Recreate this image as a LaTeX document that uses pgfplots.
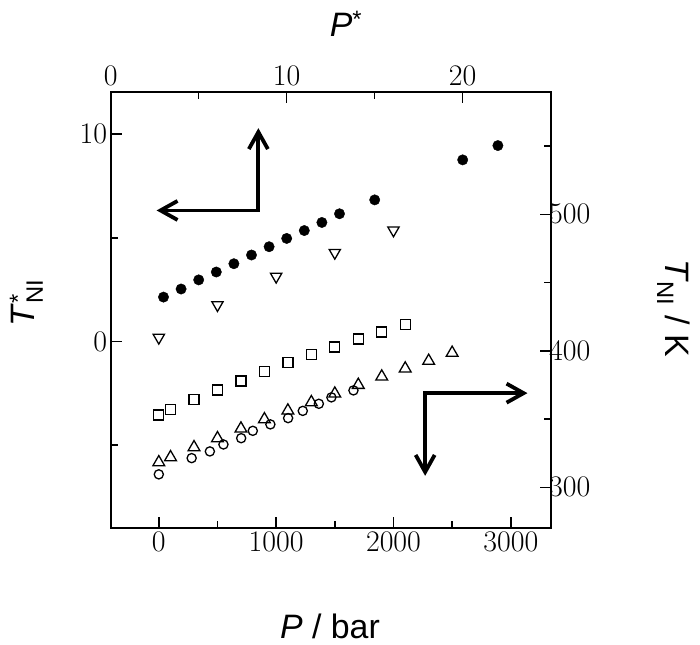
\documentclass[border=0pt]{standalone}
\usepackage{fontspec}
\setsansfont{Liberation Sans}
\usepackage{pgfplots}
\pgfplotsset{compat=1.18}
\usetikzlibrary{arrows.meta}
\begin{document}
\begin{tikzpicture}
\useasboundingbox (-110.7bp,-117bp) rectangle (589.3bp,528bp);
\pgfplotsset{
 common/.style={
  scale only axis, width=440bp, height=435.7bp, at={(0,0)}, anchor=south west,
  tick align=inside, major tick length=11bp, minor tick length=7bp,
  every tick/.style={black, line width=1.5bp},
  axis line style={line width=1.8bp},
  tick label style={font=\fontsize{30}{36}\selectfont},
  /pgf/number format/assume math mode=true,
  /pgf/number format/1000 sep={},
 }
}
% bottom (P / bar) and right (T_NI / K)
\begin{axis}[common,
  xmin=-410, xmax=3340, ymin=270.2, ymax=589.4,
  xtick={0,1000,2000,3000}, minor xtick={500,1500,2500},
  ytick={300,400,500}, minor ytick={350,450,550},
  xtick pos=left, xticklabel pos=left,
  ytick pos=right, yticklabel pos=right,
  yticklabel style={xshift=-5bp}]
% squares
\addplot[only marks, mark=square, mark size=5bp, mark options={line width=1.3bp}] coordinates {
(0,352.9) (100,356.8) (300,364.4) (500,371.4) (700,377.8) (900,384.6)
(1100,391.2) (1300,397.4) (1500,402.9) (1700,408.6) (1900,413.9) (2100,419.3)};
% open circles
\addplot[only marks, mark=o, mark size=4.6bp, mark options={line width=1.3bp}] coordinates {
(0,309.5) (280,321.4) (435,326.3) (551,331.4) (702,336.0) (801,341.4)
(951,346.1) (1102,350.7) (1227,356.0) (1364,361.2) (1471,365.9) (1659,371.0)};
% triangles
\addplot[only marks, mark=triangle, mark size=6.8bp, mark options={line width=1.3bp}] coordinates {
(0,318.3) (100,322.0) (300,329.3) (500,335.9) (700,343.0) (900,349.8)
(1100,356.2) (1300,362.3) (1500,368.6) (1700,375.0) (1900,381.1) (2100,387.0)
(2300,392.6) (2500,398.5)};
% inverted triangles
\addplot[only marks, mark=triangle, mark size=6.5bp, mark options={line width=1.3bp, rotate=180}] coordinates {
(0,409.7) (500,433.6) (1000,454.4) (1500,471.9) (2000,488.3)};
\draw[line width=3.8bp, line join=miter, {Straight Barb[length=17bp,width=19bp]}-{Straight Barb[length=17bp,width=19bp]}]
  (axis cs:3142,369.0) -- (axis cs:2270,369.0) -- (axis cs:2270,308.4);
\end{axis}
% top (P*) and left (T*_NI)
\begin{axis}[common,
  xmin=0, xmax=25, ymin=-9, ymax=12.02,
  xtick={0,10,20}, minor xtick={5,15},
  ytick={0,10}, minor ytick={-5,5},
  xtick pos=right, xticklabel pos=right,
  ytick pos=left, yticklabel pos=left,
  xticklabel style={yshift=3bp}]
\addplot[only marks, mark=*, mark size=5.2bp, fill=black] coordinates {
(3,2.14) (4,2.53) (5,2.97) (6,3.35) (7,3.75) (8,4.17) (9,4.57) (10,4.97)
(11,5.35) (12,5.74) (13,6.16) (15,6.83) (20,8.76) (22,9.45)};
\draw[line width=3.8bp, line join=miter, {Straight Barb[length=17bp,width=19bp]}-{Straight Barb[length=17bp,width=19bp]}]
  (axis cs:8.39,10.29) -- (axis cs:8.39,6.32) -- (axis cs:2.61,6.32);
\end{axis}
\node[font=\fontsize{34}{40}\selectfont\sffamily, anchor=base] at (219.3bp,-110bp) {\textit{P} / bar};
\node[font=\fontsize{34}{40}\selectfont\sffamily, anchor=base] at (235.3bp,491.3bp) {\textit{P}\textsuperscript{*}};
\node[font=\fontsize{34}{40}\selectfont\sffamily, anchor=base, rotate=90] at (-75.7bp,225bp) {\textit{T}\rlap{\textsuperscript{*}}\textsubscript{NI}};
\node[font=\fontsize{34}{40}\selectfont\sffamily, anchor=base, rotate=-90] at (554.3bp,220bp) {\textit{T}\textsubscript{NI} / K};
\end{tikzpicture}
\end{document}
